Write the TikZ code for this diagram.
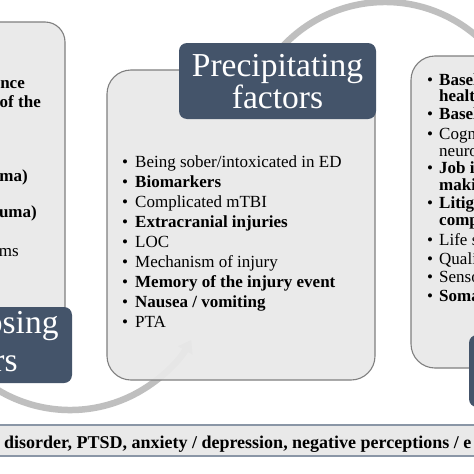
\documentclass[tikz,border=0pt]{standalone}
\usepackage{fontspec}
\setmainfont{Liberation Serif}
\usetikzlibrary{arrows.meta}
\definecolor{darkslate}{HTML}{44546A}
\definecolor{boxfill}{HTML}{E9E9E9}
\definecolor{boxline}{HTML}{7F7F7F}
\definecolor{arcgray}{HTML}{BFBFBF}
\definecolor{barline}{HTML}{8A96A6}
\begin{document}
\begin{tikzpicture}[x=1pt,y=-1pt,
  panel/.style={draw=boxline, line width=1.1pt, fill=boxfill, fill opacity=0.93, rounded corners=24pt},
  titlebox/.style={fill=darkslate, rounded corners=8pt},
  titletext/.style={text=white, font=\fontsize{33.5}{32}\selectfont, inner sep=0pt, anchor=base},
  itemtext/.style={font=\fontsize{17}{20}\selectfont, inner sep=0pt, anchor=base west},
  bolditem/.style={itemtext, font=\fontsize{17}{20}\selectfont\bfseries},
  leftitem/.style={font=\fontsize{17}{20}\selectfont, inner sep=0pt, anchor=base east},
  leftbold/.style={leftitem, font=\fontsize{17}{20}\selectfont\bfseries},
  cyclearc/.style={draw=arcgray, line width=6.5pt}
]
\useasboundingbox (0,0) rectangle (474,474);
\fill[white] (0,0) rectangle (474,474);
\clip (0,0) rectangle (474,474);

% cycle arcs
\draw[cyclearc] (385,142) ++(-150:140) arc[start angle=-150, end angle=-20, radius=140];
\draw[cyclearc, -{Triangle[width=16pt,length=12pt]}] (70,270) ++(150:140) arc[start angle=150, end angle=30, radius=140];

% panels
\draw[panel, rounded corners=20pt] (-100,22) rectangle (65,350);
\draw[panel] (107,70) rectangle (375,380);
\draw[panel] (411,56) rectangle (620,368);

% title boxes
\fill[titlebox] (179,43) rectangle (376,119);
\fill[titlebox] (-125,307) rectangle (72,383);
\fill[titlebox] (469,335) rectangle (620,407);

\node[titletext] (precA) at (277.5,76) {Precipitating};
\node[titletext] (precB) at (277.5,108) {factors};
\node[titletext] (predA) at (-28,333) {Predisposing};
\node[titletext] (predB) at (-28,371) {factors};

% left list (cropped)
\node[leftbold] (l1) at (25,88) {nce};
\node[leftbold] (l2) at (41,107) {of the};
\node[leftbold] (l3) at (28,181.7) {uma)};
\node[leftbold] (l4) at (37,217) {uma)};
\node[leftitem] (l5) at (19,256) {ms};

% middle list
\foreach \yy/\st/\tx [count=\i] in {
  167.3/itemtext/{Being sober/intoxicated in ED},
  187.4/bolditem/{Biomarkers},
  207.4/itemtext/{Complicated mTBI},
  227.5/bolditem/{Extracranial injuries},
  247.5/itemtext/{LOC},
  267.6/itemtext/{Mechanism of injury},
  287.6/bolditem/{Memory of the injury event},
  307.7/bolditem/{Nausea / vomiting},
  327.7/itemtext/{PTA}}{
  \node[itemtext] (mb\i) at (122,\yy) {•};
  \node[\st] (mt\i) at (135,\yy) {\tx};
}

% right list (cropped)
\node[itemtext] (rb1) at (427,85) {•};
\node[bolditem] (r1) at (439,85) {Basel};
\node[bolditem] (r1b) at (439,101.5) {healt};
\node[itemtext] (rb2) at (427,119.3) {•};
\node[bolditem] (r2) at (439,119.3) {Basel};
\node[itemtext] (rb3) at (427,139) {•};
\node[itemtext] (r3) at (439,139) {Cogn};
\node[itemtext] (r3b) at (439,156) {neuro};
\node[itemtext] (rb4) at (427,173.3) {•};
\node[bolditem] (r4) at (439,173.3) {Job i};
\node[bolditem] (r4b) at (439,190.5) {maki};
\node[itemtext] (rb5) at (427,208.3) {•};
\node[bolditem] (r5) at (439,208.3) {Litig};
\node[bolditem] (r5b) at (439,225) {comp};
\node[itemtext] (rb6) at (427,245) {•};
\node[itemtext] (r6) at (439,245) {Life s};
\node[itemtext] (rb7) at (427,264) {•};
\node[itemtext] (r7) at (439,264) {Quali};
\node[itemtext] (rb8) at (427,282.7) {•};
\node[itemtext] (r8) at (439,282.7) {Senso};
\node[itemtext] (rb9) at (427,301.7) {•};
\node[bolditem] (r9) at (439,301.7) {Soma};

% bottom bar
\fill[boxfill] (-10,425) rectangle (484,456);
\draw[barline, line width=1.2pt] (-10,425) -- (484,425);
\draw[barline, line width=1.2pt] (-10,456) -- (484,456);
\node[font=\fontsize{18}{20}\selectfont\bfseries, inner sep=0pt, anchor=base west] (bar) at (4,448) {disorder, PTSD, anxiety / depression, negative perceptions / e};
\end{tikzpicture}
\end{document}
